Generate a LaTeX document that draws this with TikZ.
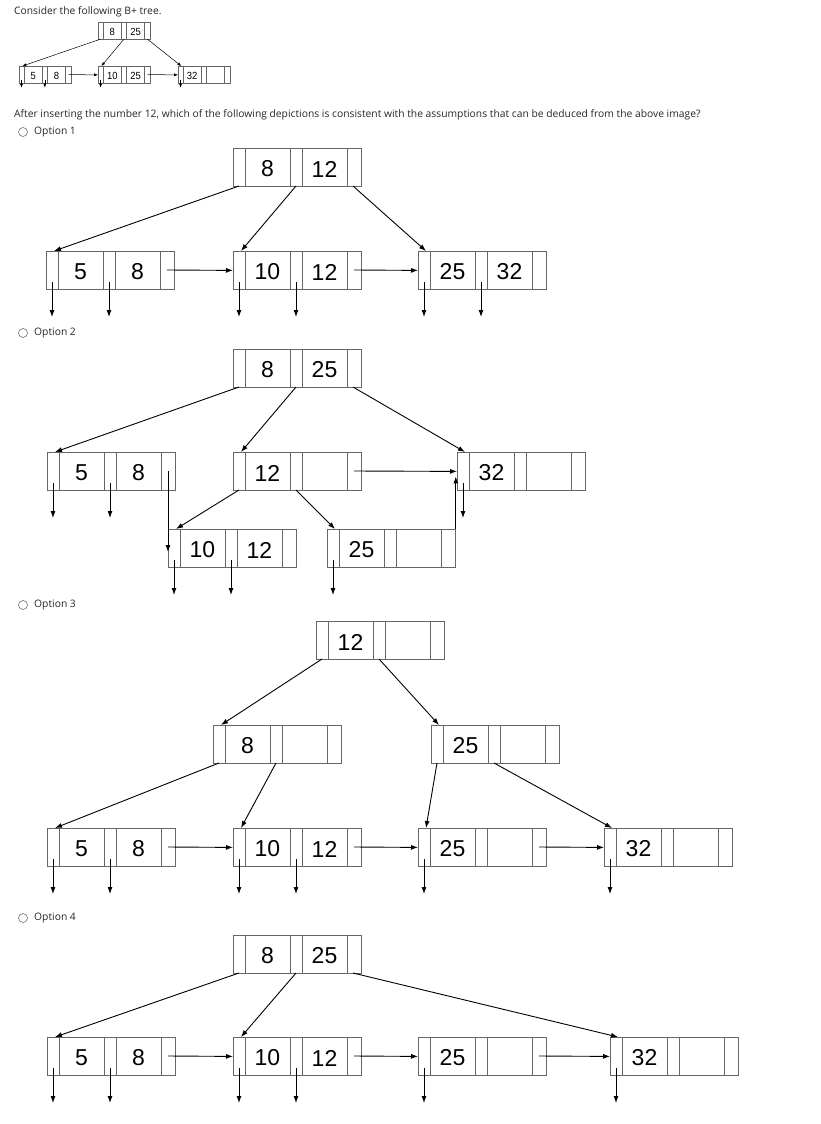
\documentclass[tikz,border=0pt]{standalone}
\usepackage{fontspec}
\setmainfont{Liberation Sans}
\newfontfamily\uifont{Open Sans}
\usetikzlibrary{arrows.meta,calc}
\tikzset{
  arr/.style={draw,line width=0.9pt,-{Latex[length=7pt,width=5pt]}},
  cellline/.style={draw=black!60,line width=0.8pt},
  keytxt/.style={font=\fontsize{23}{23}\selectfont,inner sep=0pt},
  uitxt/.style={font=\uifont\fontsize{10.3}{12}\selectfont,anchor=west,inner sep=0pt,text=black!85},
}
\newcommand\bnode[5]{%
  \begin{scope}[shift={(#2,#3)}]
  \node[cellline,minimum width=128,minimum height=38,anchor=north west,inner sep=0pt] (#1) at (0,0) {};
  \draw[cellline] (12,0) -- (12,38) (57,0) -- (57,38) (69,0) -- (69,38) (114,0) -- (114,38);
  \node[keytxt] (#1-k1) at (34.5,21) {#4};
  \node[keytxt] (#1-k2) at (91.5,21) {#5};
  \coordinate (#1-a) at (6,19); \coordinate (#1-b) at (63,19); \coordinate (#1-c) at (121,19);
  \coordinate (#1-ad0) at (6,31); \coordinate (#1-bd0) at (63,31);
  \coordinate (#1-ab) at (6,38); \coordinate (#1-bb) at (63,38); \coordinate (#1-cb) at (120,38);
  \coordinate (#1-t) at (8,0);
  \coordinate (#1-ad) at (6,66); \coordinate (#1-bd) at (63,66);
  \end{scope}}
\begin{document}
\begin{tikzpicture}[x=1pt,y=-1pt]
\useasboundingbox (0,0) rectangle (821,1124);
% header
\node[uitxt] (h1) at (14,12) {Consider the following B+ tree.};
\node[uitxt] (h2) at (14,115) {After inserting the number 12, which of the following depictions is consistent with the assumptions that can be deduced from the above image?};
\foreach \y/\t [count=\i] in {132/Option 1,333/Option 2,605/Option 3,918/Option 4}{
  \draw[black!55,line width=0.6pt] (23,\y) circle (4.5);
  \node[uitxt] (o\i) at (34,\y) {\t};
}
% small tree
\begin{scope}[shift={(19,22)},xscale=0.41,yscale=0.45,transform shape]
\bnode{sr}{193}{0}{8}{25}
\bnode{sa}{0}{98}{5}{8}
\bnode{sb}{193}{98}{10}{25}
\bnode{sc}{388}{98}{32}{}
\end{scope}
\tikzset{sarr/.style={draw,line width=0.5pt,-{Latex[length=4pt,width=3pt]}}}
\draw[sarr] (sr-ab) -- (sa-t);
\draw[sarr] (sr-bb) -- (sb-t);
\draw[sarr] (sr-cb) -- (sc-t);
\draw[sarr] (sa-c) -- (sb.west);
\draw[sarr] (sb-c) -- (sc.west);
\foreach \p in {sa-a,sa-b,sb-a,sc-a}{\draw[sarr] ($(\p)+(0,5)$) -- ($(\p)+(0,13)$);}
% option 1
\bnode{r1}{233}{148}{8}{12}
\bnode{l1a}{46}{251}{5}{8}
\bnode{l1b}{233}{251}{10}{12}
\bnode{l1c}{418}{251}{25}{32}
\draw[arr] (r1-ab) -- (l1a-t);
\draw[arr] (r1-bb) -- (l1b-t);
\draw[arr] (r1-cb) -- (l1c-t);
\draw[arr] (l1a-c) -- (l1b.west);
\draw[arr] (l1b-c) -- (l1c.west);
\foreach \n in {l1a,l1b,l1c}{\draw[arr] (\n-ad0) -- (\n-ad); \draw[arr] (\n-bd0) -- (\n-bd);}
% option 2
\bnode{r2}{233}{349}{8}{25}
\bnode{a2}{47}{452}{5}{8}
\bnode{b2}{233}{452}{12}{}
\bnode{c2}{457}{452}{32}{}
\bnode{d2}{168}{529}{10}{12}
\bnode{e2}{327}{529}{25}{}
\draw[arr] (r2-ab) -- (a2-t);
\draw[arr] (r2-bb) -- (b2-t);
\draw[arr] (r2-cb) -- (c2-t);
\draw[arr] (b2-ab) -- (d2-t);
\draw[arr] (b2-bb) -- (e2-t);
\draw[arr] (b2-c) -- (c2.west);
\draw[arr] (a2-c) -- ($(d2.north west)+(0,23)$);
\draw[arr] (e2.north east) -- ($(e2.north east |- c2.west)+(0,5)$);
\foreach \n in {a2,d2}{\draw[arr] (\n-ad0) -- (\n-ad); \draw[arr] (\n-bd0) -- (\n-bd);}
\foreach \n in {e2,c2}{\draw[arr] (\n-ad0) -- (\n-ad);}
% option 3
\bnode{r3}{316}{621}{12}{}
\bnode{m1}{213}{725}{8}{}
\bnode{m2}{431}{725}{25}{}
\bnode{p3}{47}{828}{5}{8}
\bnode{q3}{233}{828}{10}{12}
\bnode{s3}{418}{828}{25}{}
\bnode{t3}{604}{828}{32}{}
\draw[arr] (r3-ab) -- (m1-t);
\draw[arr] (r3-bb) -- (m2-t);
\draw[arr] (m1-ab) -- (p3-t);
\draw[arr] (m1-bb) -- (q3-t);
\draw[arr] (m2-ab) -- (s3-t);
\draw[arr] (m2-bb) -- (t3-t);
\draw[arr] (p3-c) -- (q3.west);
\draw[arr] (q3-c) -- (s3.west);
\draw[arr] (s3-c) -- (t3.west);
\foreach \n in {p3,q3}{\draw[arr] (\n-ad0) -- (\n-ad); \draw[arr] (\n-bd0) -- (\n-bd);}
\foreach \n in {s3,t3}{\draw[arr] (\n-ad0) -- (\n-ad);}
% option 4
\bnode{r4}{233}{935}{8}{25}
\bnode{u4}{47}{1037}{5}{8}
\bnode{v4}{233}{1037}{10}{12}
\bnode{w4}{418}{1037}{25}{}
\bnode{x4}{610}{1037}{32}{}
\draw[arr] (r4-ab) -- (u4-t);
\draw[arr] (r4-bb) -- (v4-t);
\draw[arr] (r4-cb) -- (x4-t);
\draw[arr] (u4-c) -- (v4.west);
\draw[arr] (v4-c) -- (w4.west);
\draw[arr] (w4-c) -- (x4.west);
\foreach \n in {u4,v4}{\draw[arr] (\n-ad0) -- (\n-ad); \draw[arr] (\n-bd0) -- (\n-bd);}
\foreach \n in {w4,x4}{\draw[arr] (\n-ad0) -- (\n-ad);}
\end{tikzpicture}
\end{document}
